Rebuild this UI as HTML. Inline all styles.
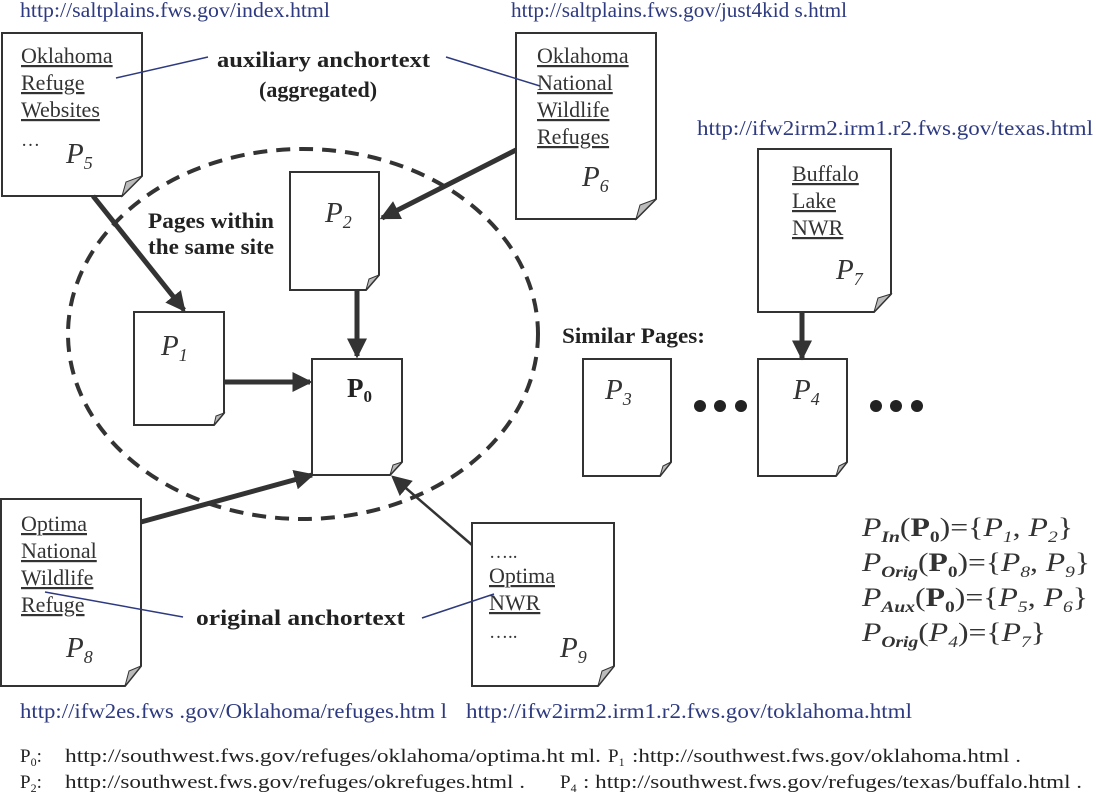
<!DOCTYPE html>
<html><head><meta charset="utf-8"><style>
body{margin:0;background:#fff}
svg{display:block}
text{font-family:"Liberation Serif",serif}
.u{fill:#2e3a80;font-size:21px}
.d{font-size:22px;fill:#333;text-decoration:underline}
.b{font-weight:bold;font-size:22px;fill:#222}
.p{font-style:italic;font-size:29px;fill:#333}
.s{font-size:18px}
.f{font-size:19px;fill:#333}
</style></head><body>
<svg width="1096" height="796" viewBox="0 0 1096 796" xmlns="http://www.w3.org/2000/svg">
<defs>
<marker id="a" markerWidth="4" markerHeight="4" refX="3.5" refY="2" orient="auto" markerUnits="strokeWidth"><path d="M0,0 L4,2 L0,4 Z" fill="#333"/></marker>
<marker id="a2" markerWidth="8" markerHeight="8" refX="7" refY="4" orient="auto" markerUnits="strokeWidth"><path d="M0,0 L8,4 L0,8 Z" fill="#333"/></marker>
</defs>
<g fill="#fff" stroke="#333" stroke-width="2">
<path d="M2,33H142V176L122,196H2Z"/>
<path d="M516,33H656V199L636,219H516Z"/>
<path d="M290,172H379V275L366,290H290Z"/>
<path d="M134,312H224V413L214,425H134Z"/>
<path d="M312,359H402V462L390,475H312Z"/>
<path d="M583,359H671V462L660,476H583Z"/>
<path d="M758,359H847V462L836,476H758Z"/>
<path d="M758,149H891V294L874,312H758Z"/>
<path d="M1,499H141V666L125,686H1Z"/>
<path d="M472,523H614V666L598,686H472Z"/>
</g>
<g fill="#bbb" stroke="#333" stroke-width="1">
<path d="M142,176L122,196L126,182Z"/>
<path d="M656,199L636,219L640,205Z"/>
<path d="M379,275L366,290L369,279Z"/>
<path d="M224,413L214,425L216,416Z"/>
<path d="M402,462L390,475L393,465Z"/>
<path d="M671,462L660,476L663,466Z"/>
<path d="M847,462L836,476L839,466Z"/>
<path d="M891,294L874,312L878,298Z"/>
<path d="M141,666L125,686L129,671Z"/>
<path d="M614,666L598,686L602,671Z"/>
</g>
<ellipse cx="303" cy="334" rx="235" ry="185" fill="none" stroke="#333" stroke-width="4" stroke-dasharray="14,9"/>
<g stroke="#333" stroke-width="5" fill="none" marker-end="url(#a)">
<line x1="93" y1="196" x2="184" y2="310"/>
<line x1="516" y1="150" x2="382" y2="218"/>
<line x1="357" y1="290" x2="357" y2="356"/>
<line x1="224" y1="382" x2="310" y2="382"/>
<line x1="141" y1="522" x2="312" y2="475"/>
<line x1="802" y1="312" x2="802" y2="358"/>
</g>
<line x1="472" y1="545" x2="393" y2="477" stroke="#333" stroke-width="2.5" marker-end="url(#a2)"/>
<g stroke="#2e3a80" stroke-width="1.5">
<line x1="116" y1="78" x2="208" y2="57"/>
<line x1="446" y1="57" x2="540" y2="86"/>
<line x1="45" y1="592" x2="183" y2="617"/>
<line x1="422" y1="618" x2="494" y2="594"/>
</g>
<g fill="#222">
<circle cx="700" cy="406" r="6"/><circle cx="720" cy="406" r="6"/><circle cx="741" cy="406" r="6"/>
<circle cx="876" cy="406" r="6"/><circle cx="896" cy="406" r="6"/><circle cx="917" cy="406" r="6"/>
</g>
<text class="u" x="20" y="17" textLength="310" lengthAdjust="spacingAndGlyphs">http://saltplains.fws.gov/index.html</text>
<text class="u" x="511" y="17" textLength="336" lengthAdjust="spacingAndGlyphs">http://saltplains.fws.gov/just4kid s.html</text>
<text class="u" x="697" y="135" textLength="396" lengthAdjust="spacingAndGlyphs">http://ifw2irm2.irm1.r2.fws.gov/texas.html</text>
<text class="u" x="20" y="718" textLength="427" lengthAdjust="spacingAndGlyphs">http://ifw2es.fws .gov/Oklahoma/refuges.htm l</text>
<text class="u" x="466" y="718" textLength="446" lengthAdjust="spacingAndGlyphs">http://ifw2irm2.irm1.r2.fws.gov/toklahoma.html</text>
<text class="d" x="21" y="63">Oklahoma</text><text class="d" x="21" y="90">Refuge</text><text class="d" x="21" y="117">Websites</text>
<text class="f" x="21" y="146">…</text>
<text class="p" x="66" y="163">P<tspan class="s" dy="6">5</tspan></text>
<text class="d" x="537" y="63">Oklahoma</text><text class="d" x="537" y="90">National</text><text class="d" x="537" y="117">Wildlife</text><text class="d" x="537" y="144">Refuges</text>
<text class="p" x="582" y="186">P<tspan class="s" dy="6">6</tspan></text>
<text class="b" x="217" y="67" textLength="213" lengthAdjust="spacingAndGlyphs">auxiliary anchortext</text>
<text class="b" x="259" y="97">(aggregated)</text>
<text class="b" x="148" y="228" font-size="20" textLength="126" lengthAdjust="spacingAndGlyphs">Pages within</text>
<text class="b" x="148" y="254" font-size="20" textLength="126" lengthAdjust="spacingAndGlyphs">the same site</text>
<text class="p" x="325" y="222">P<tspan class="s" dy="6">2</tspan></text>
<text class="p" x="161" y="355">P<tspan class="s" dy="6">1</tspan></text>
<text x="347" y="397" font-weight="bold" font-size="27" fill="#222">P<tspan font-size="17" dy="5">0</tspan></text>
<text class="b" x="562" y="343" font-size="20" textLength="143" lengthAdjust="spacingAndGlyphs">Similar Pages:</text>
<text class="p" x="605" y="399">P<tspan class="s" dy="6">3</tspan></text>
<text class="p" x="793" y="399">P<tspan class="s" dy="6">4</tspan></text>
<text class="d" x="792" y="181">Buffalo</text><text class="d" x="792" y="208">Lake</text><text class="d" x="792" y="235">NWR</text>
<text class="p" x="836" y="279">P<tspan class="s" dy="6">7</tspan></text>
<text class="d" x="21" y="531">Optima</text><text class="d" x="21" y="558">National</text><text class="d" x="21" y="585">Wildlife</text><text class="d" x="21" y="612">Refuge</text>
<text class="p" x="66" y="657">P<tspan class="s" dy="6">8</tspan></text>
<text class="f" x="489" y="558">…..</text>
<text class="d" x="489" y="583">Optima</text><text class="d" x="489" y="610">NWR</text>
<text class="f" x="489" y="638">…..</text>
<text class="p" x="560" y="657">P<tspan class="s" dy="6">9</tspan></text>
<text class="b" x="196" y="625" textLength="209" lengthAdjust="spacingAndGlyphs">original  anchortext</text>
<g font-size="26" fill="#333">
<text x="862" y="536" textLength="211" lengthAdjust="spacingAndGlyphs"><tspan font-style="italic">P</tspan><tspan font-size="16" font-weight="bold" font-style="italic" dy="6">In</tspan><tspan dy="-6">(</tspan><tspan font-weight="bold">P</tspan><tspan font-size="16" font-weight="bold" dy="6">0</tspan><tspan dy="-6">)={</tspan><tspan font-style="italic">P</tspan><tspan font-size="16" font-style="italic" dy="6">1</tspan><tspan dy="-6">, </tspan><tspan font-style="italic">P</tspan><tspan font-size="16" font-style="italic" dy="6">2</tspan><tspan dy="-6">}</tspan></text>
<text x="862" y="571" textLength="228" lengthAdjust="spacingAndGlyphs"><tspan font-style="italic">P</tspan><tspan font-size="16" font-weight="bold" font-style="italic" dy="6">Orig</tspan><tspan dy="-6">(</tspan><tspan font-weight="bold">P</tspan><tspan font-size="16" font-weight="bold" dy="6">0</tspan><tspan dy="-6">)={</tspan><tspan font-style="italic">P</tspan><tspan font-size="16" font-style="italic" dy="6">8</tspan><tspan dy="-6">, </tspan><tspan font-style="italic">P</tspan><tspan font-size="16" font-style="italic" dy="6">9</tspan><tspan dy="-6">}</tspan></text>
<text x="862" y="606" textLength="226" lengthAdjust="spacingAndGlyphs"><tspan font-style="italic">P</tspan><tspan font-size="16" font-weight="bold" font-style="italic" dy="6">Aux</tspan><tspan dy="-6">(</tspan><tspan font-weight="bold">P</tspan><tspan font-size="16" font-weight="bold" dy="6">0</tspan><tspan dy="-6">)={</tspan><tspan font-style="italic">P</tspan><tspan font-size="16" font-style="italic" dy="6">5</tspan><tspan dy="-6">, </tspan><tspan font-style="italic">P</tspan><tspan font-size="16" font-style="italic" dy="6">6</tspan><tspan dy="-6">}</tspan></text>
<text x="862" y="641" textLength="184" lengthAdjust="spacingAndGlyphs"><tspan font-style="italic">P</tspan><tspan font-size="16" font-weight="bold" font-style="italic" dy="6">Orig</tspan><tspan dy="-6">(</tspan><tspan font-style="italic">P</tspan><tspan font-size="16" font-style="italic" dy="6">4</tspan><tspan dy="-6">)={</tspan><tspan font-style="italic">P</tspan><tspan font-size="16" font-style="italic" dy="6">7</tspan><tspan dy="-6">}</tspan></text>
</g>
<g font-size="19" fill="#222">
<text x="20" y="762">P<tspan font-size="12" dy="4">0</tspan><tspan dy="-4">:</tspan></text>
<text x="65" y="762" textLength="536" lengthAdjust="spacingAndGlyphs">http://southwest.fws.gov/refuges/oklahoma/optima.ht ml.</text>
<text x="608" y="762">P<tspan font-size="12" dy="4">1</tspan></text>
<text x="632" y="762" textLength="389" lengthAdjust="spacingAndGlyphs">:http://southwest.fws.gov/oklahoma.html .</text>
<text x="20" y="788">P<tspan font-size="12" dy="4">2</tspan><tspan dy="-4">:</tspan></text>
<text x="65" y="788" textLength="460" lengthAdjust="spacingAndGlyphs">http://southwest.fws.gov/refuges/okrefuges.html .</text>
<text x="560" y="788">P<tspan font-size="12" dy="4">4</tspan></text>
<text x="583" y="788" textLength="499" lengthAdjust="spacingAndGlyphs">: http://southwest.fws.gov/refuges/texas/buffalo.html .</text>
</g>
</svg>
</body></html>
